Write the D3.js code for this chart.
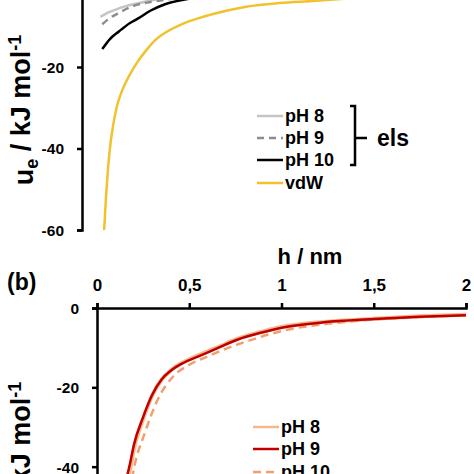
<!DOCTYPE html>
<meta charset="utf-8">
<style>
body { margin: 0; background: #fff; }
text { font-family: "Liberation Sans", Arial, sans-serif; font-weight: bold; fill: #000; }
.axis path, .axis line { stroke: #000; stroke-width: 2.5; }
</style>
<body>
<script src="https://cdn.jsdelivr.net/npm/d3@7"></script>
<script>
// panel (a): electrostatic (els) and van der Waals contributions
var elsH8 = [0.10, 0.15, 0.2, 0.3, 0.38, 0.5, 0.7, 1.0, 1.5, 2.0];
var elsPH8 = [-7.7, -6.5, -5.6, -4.4, -3.6, -2.9, -2.2, -1.5, -0.9, -0.6];
var elsH9 = [0.11, 0.15, 0.2, 0.28, 0.35, 0.45, 0.7, 1.0, 1.5, 2.0];
var elsPH9 = [-9.5, -8.0, -6.7, -5.0, -4.2, -3.5, -2.5, -1.7, -1.0, -0.7];
var elsH10 = [0.11, 0.15, 0.2, 0.26, 0.3, 0.37, 0.45, 0.55, 0.7, 1.0, 1.5, 2.0];
var elsPH10 = [-15.6, -13.2, -11.3, -9.2, -8.2, -6.2, -4.6, -3.5, -2.5, -1.5, -0.8, -0.5];
var vdwH = [0.12, 0.13, 0.14, 0.15, 0.17, 0.19, 0.22, 0.26, 0.3, 0.35, 0.4, 0.44, 0.53, 0.62, 0.71, 0.89, 1.07, 1.25, 1.5, 1.75, 2.0];
var vdwU = [-60, -52, -45.5, -40.5, -34, -29.5, -25.5, -21.8, -18.8, -15.8, -13.3, -11.9, -9.7, -8.2, -7, -5.2, -4.3, -3.8, -3.0, -2.4, -2.0];

// panel (b): total interaction
var totH = [0.165, 0.18, 0.2, 0.25, 0.3, 0.35, 0.4, 0.47, 0.55, 0.65, 0.76, 0.9, 1.0, 1.23, 1.5, 1.75, 2.0];
var totPH8 = [-43.5, -40.5, -35.5, -28, -22, -18.1, -15.7, -13.6, -11.9, -10, -7.8, -5.9, -4.8, -3.5, -2.7, -2.1, -1.7];
var totPH9 = [-42, -39, -34.5, -27.5, -21.8, -18, -15.8, -13.8, -12.2, -10.2, -8, -6.1, -5.0, -3.6, -2.8, -2.2, -1.8];
var totH10 = [0.19, 0.2, 0.26, 0.33, 0.41, 0.5, 0.6, 0.68, 0.8, 1.03, 1.25, 1.5, 1.75, 2.0];
var totPH10 = [-43, -40.5, -31.4, -23, -17.4, -14.3, -12.2, -10.6, -8.6, -5.5, -4.0, -2.9, -2.3, -1.8];

var hTicks = [0, 0.5, 1, 1.5, 2];
var uTicksA = [-20, -40, -60];
var uTicksB = [0, -20, -40, -60];

var svg = d3.select("body").append("svg").attr("width", 474).attr("height", 474);

// scales
var xA = d3.scaleLinear().domain([0, 2]).range([82, 451]);
var yA = d3.scaleLinear().domain([0, -60]).range([-14.5, 230]);
var xB = d3.scaleLinear().domain([0, 2]).range([97, 466]);
var yB = d3.scaleLinear().domain([0, -60]).range([308, 546]);

var fmtH = function(d){ return String(d).replace(".", ","); };
var fmtU = function(d){ return String(d); };

// panel (a): only the left axis is inside the picture
svg.append("g").attr("class", "axis")
  .attr("transform", "translate(" + xA(0) + ",0)")
  .call(d3.axisLeft(yA).tickValues(uTicksA).tickFormat(fmtU).tickSize(5).tickPadding(13).tickSizeOuter(5))
  .selectAll("text").style("font-size", "15.5px").attr("dy", "0.35em");

// panel (b)
svg.append("g").attr("class", "axis")
  .attr("transform", "translate(0," + yB(0) + ")")
  .call(d3.axisTop(xB).tickValues(hTicks).tickFormat(fmtH).tickSize(5).tickPadding(12).tickSizeOuter(5))
  .selectAll("text").style("font-size", "17px");
svg.append("g").attr("class", "axis")
  .attr("transform", "translate(" + xB(0) + ",0)")
  .call(d3.axisLeft(yB).tickValues(uTicksB).tickFormat(fmtU).tickSize(5).tickPadding(13).tickSizeOuter(5))
  .selectAll("text").style("font-size", "15.5px").attr("dy", "0.35em");

function curve(x, y, hs, us, color, width, dash){
  var line = d3.line().x(function(d, i){ return x(hs[i]); }).y(function(d){ return y(d); })
    .curve(d3.curveMonotoneX);
  svg.append("path").datum(us).attr("d", line)
    .attr("fill", "none").attr("stroke", color).attr("stroke-width", width)
    .attr("stroke-dasharray", dash || null);
}

curve(xA, yA, vdwH, vdwU, "#f2c12e", 2.5);
curve(xA, yA, elsH8, elsPH8, "#c4c4c4", 2.5);
curve(xA, yA, elsH9, elsPH9, "#8c8c8c", 2.5, "7,5");
curve(xA, yA, elsH10, elsPH10, "#000", 2.5);

curve(xB, yB, totH, totPH8, "#f7b68c", 4);
curve(xB, yB, totH10, totPH10, "#f0a070", 2.5, "8,5");
curve(xB, yB, totH, totPH9, "#c00000", 2.5);

// legends
function legend(items, x0, ys){
  items.forEach(function(it, i){
    svg.append("line").attr("x1", x0).attr("x2", x0 + 26).attr("y1", ys[i]).attr("y2", ys[i])
      .attr("stroke", it.c).attr("stroke-width", 2.5).attr("stroke-dasharray", it.d || null);
    svg.append("text").attr("x", x0 + 28).attr("y", ys[i]).attr("dy", "0.36em")
      .style("font-size", "18px").text(it.t);
  });
}
legend([{t: "pH 8", c: "#c4c4c4"}, {t: "pH 9", c: "#8c8c8c", d: "7,5"},
        {t: "pH 10", c: "#000"}, {t: "vdW", c: "#f2c12e"}], 257, [116, 138, 160, 183]);
legend([{t: "pH 8", c: "#f7b68c"}, {t: "pH 9", c: "#c00000"}, {t: "pH 10", c: "#f0a070", d: "8,5"}],
       253, [427, 449, 472]);

// bracket for els
svg.append("path").attr("d", "M350,106H355V165H350M355,138H367")
  .attr("fill", "none").attr("stroke", "#000").attr("stroke-width", 2.5);
svg.append("text").attr("x", 377).attr("y", 138).attr("dy", "0.36em").style("font-size", "23px").text("els");

// titles
function yTitle(cy){
  var t = svg.append("text").attr("transform", "translate(33," + cy + ") rotate(-90)")
    .attr("text-anchor", "middle").style("font-size", "27px");
  t.append("tspan").text("u");
  t.append("tspan").attr("dy", "0.3em").style("font-size", "18px").text("e");
  t.append("tspan").attr("dy", "-0.3em").text(" / kJ mol");
  t.append("tspan").attr("dy", "-0.5em").style("font-size", "18px").text("-1");
}
yTitle(110);
yTitle(457);

svg.append("text").attr("x", 310).attr("y", 264).attr("text-anchor", "middle")
  .style("font-size", "22px").text("h / nm");
svg.append("text").attr("x", 7).attr("y", 290).style("font-size", "23px").text("(b)");
</script>
